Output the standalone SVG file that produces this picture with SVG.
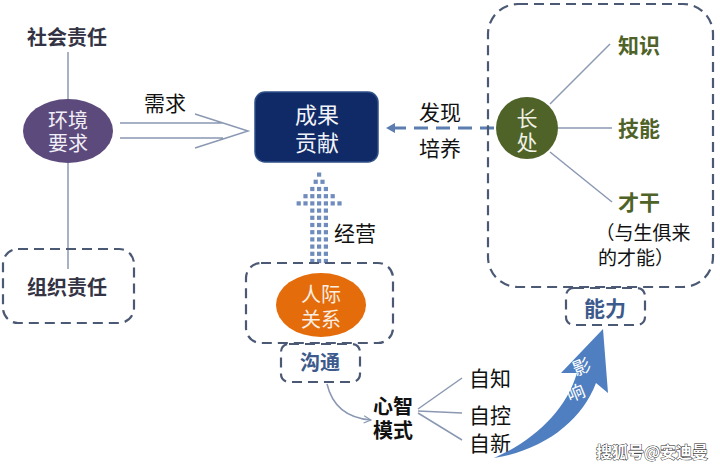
<svg xmlns="http://www.w3.org/2000/svg" width="720" height="469" viewBox="0 0 720 469">
<defs>
<style>
.t{font-family:"Noto Sans CJK SC","Noto Sans",sans-serif;text-anchor:middle}
.b{font-weight:bold}
.dash{fill:none;stroke:#4b5974;stroke-width:2.2;stroke-dasharray:10 6}
.ln{fill:none;stroke:#8a98b2;stroke-width:1.5}
</style>
<marker id="open" viewBox="0 0 10 10" refX="9" refY="5" markerWidth="9" markerHeight="9" orient="auto" markerUnits="userSpaceOnUse">
<path d="M1,1 L9,5 L1,9" fill="none" stroke="#8a98b2" stroke-width="1.3"/>
</marker>
</defs>
<rect width="720" height="469" fill="#ffffff"/>

<g id="connectors">
<line class="ln" x1="68" y1="52" x2="68" y2="99"/>
<line class="ln" x1="68" y1="163" x2="68" y2="269"/>
<path class="ln" d="M120,123 L223,123 M120,138 L223,138 M195,114 L248,131 L195,148"/>
<line x1="494" y1="128" x2="384" y2="128" stroke="#5b7db0" stroke-width="3" stroke-dasharray="14 8"/>
<path d="M386,128 L395,123 L395,133 Z" fill="#5b7db0"/>
<g fill="#6f8cbc">
<rect x="317" y="172.5" width="4.2" height="4.2"/>
<rect x="313.6" y="179.7" width="4.2" height="4.2"/><rect x="320.4" y="179.7" width="4.2" height="4.2"/>
<rect x="310.2" y="186.9" width="4.2" height="4.2"/><rect x="317" y="186.9" width="4.2" height="4.2"/><rect x="323.8" y="186.9" width="4.2" height="4.2"/>
<rect x="303.4" y="194.1" width="4.2" height="4.2"/><rect x="310.2" y="194.1" width="4.2" height="4.2"/><rect x="317" y="194.1" width="4.2" height="4.2"/><rect x="323.8" y="194.1" width="4.2" height="4.2"/><rect x="330.6" y="194.1" width="4.2" height="4.2"/>
<rect x="296.6" y="201.3" width="4.2" height="4.2"/><rect x="303.4" y="201.3" width="4.2" height="4.2"/><rect x="310.2" y="201.3" width="4.2" height="4.2"/><rect x="317" y="201.3" width="4.2" height="4.2"/><rect x="323.8" y="201.3" width="4.2" height="4.2"/><rect x="330.6" y="201.3" width="4.2" height="4.2"/><rect x="337.4" y="201.3" width="4.2" height="4.2"/>
<rect x="310.2" y="208.5" width="4.2" height="4.2"/><rect x="317" y="208.5" width="4.2" height="4.2"/><rect x="323.8" y="208.5" width="4.2" height="4.2"/>
<rect x="310.2" y="215.7" width="4.2" height="4.2"/><rect x="317" y="215.7" width="4.2" height="4.2"/><rect x="323.8" y="215.7" width="4.2" height="4.2"/>
<rect x="310.2" y="222.9" width="4.2" height="4.2"/><rect x="317" y="222.9" width="4.2" height="4.2"/><rect x="323.8" y="222.9" width="4.2" height="4.2"/>
<rect x="310.2" y="230.1" width="4.2" height="4.2"/><rect x="317" y="230.1" width="4.2" height="4.2"/><rect x="323.8" y="230.1" width="4.2" height="4.2"/>
<rect x="310.2" y="237.3" width="4.2" height="4.2"/><rect x="317" y="237.3" width="4.2" height="4.2"/><rect x="323.8" y="237.3" width="4.2" height="4.2"/>
<rect x="310.2" y="244.5" width="4.2" height="4.2"/><rect x="317" y="244.5" width="4.2" height="4.2"/><rect x="323.8" y="244.5" width="4.2" height="4.2"/>
<rect x="310.2" y="251.7" width="4.2" height="4.2"/><rect x="317" y="251.7" width="4.2" height="4.2"/><rect x="323.8" y="251.7" width="4.2" height="4.2"/>
<rect x="310.2" y="258.9" width="4.2" height="4.2"/><rect x="317" y="258.9" width="4.2" height="4.2"/><rect x="323.8" y="258.9" width="4.2" height="4.2"/>
</g>
<line class="ln" x1="550" y1="104" x2="610" y2="44"/>
<line class="ln" x1="558" y1="128" x2="612" y2="128"/>
<line class="ln" x1="550" y1="152" x2="612" y2="202"/>
<path class="ln" d="M327,384 C332,405 345,418 371,420" marker-end="url(#open)"/>
<line class="ln" x1="418" y1="409" x2="462" y2="378"/>
<line class="ln" x1="418" y1="411" x2="462" y2="413"/>
<line class="ln" x1="418" y1="413" x2="462" y2="440"/>
</g>

<g id="shehui">
<text class="t b" x="67" y="44.5" font-size="20" fill="#333344">社会责任</text>
</g>

<g id="huanjing">
<ellipse cx="68" cy="131" rx="45" ry="32" fill="#5d4a7c"/>
<text class="t" font-size="20" fill="#f0eef6"><tspan x="68" y="127.5">环境</tspan><tspan x="68" y="151">要求</tspan></text>
</g>

<g id="zuzhi">
<rect class="dash" x="3" y="249" width="131" height="74" rx="15"/>
<text class="t b" x="67" y="294.5" font-size="20" fill="#333344">组织责任</text>
</g>

<g id="xuqiu">
<text class="t" x="165" y="110.5" font-size="21" fill="#111111">需求</text>
</g>

<g id="chengguo">
<rect x="255" y="92" width="123" height="70" rx="10" fill="#0f2a66" stroke="#2f4f86" stroke-width="1.5"/>
<text class="t" font-size="22" fill="#f2f4fa"><tspan x="317" y="123">成果</tspan><tspan x="317" y="151">贡献</tspan></text>
</g>

<g id="faxian">
<text class="t" x="440" y="119.5" font-size="21" fill="#111111">发现</text>
<text class="t" x="440" y="155.5" font-size="21" fill="#111111">培养</text>
</g>

<g id="jingying">
<text class="t" x="355" y="240.5" font-size="21" fill="#111111">经营</text>
</g>

<g id="renji">
<rect class="dash" x="246" y="263" width="147" height="80" rx="15"/>
<ellipse cx="321" cy="305" rx="45" ry="32" fill="#e46c0b"/>
<text class="t" font-size="20" fill="#fbeee2"><tspan x="321" y="302">人际</tspan><tspan x="321" y="327">关系</tspan></text>
</g>

<g id="goutong">
<rect class="dash" x="281" y="344" width="79" height="38" rx="8"/>
<text class="t b" x="320" y="370" font-size="20" fill="#3d5a8c">沟通</text>
</g>

<g id="nengli-box">
<rect class="dash" x="488" y="4" width="225" height="283" rx="30"/>
</g>

<g id="changchu">
<circle cx="527" cy="128" r="31" fill="#4f6228"/>
<text class="t" font-size="21" fill="#f0f2e6"><tspan x="527" y="125.5">长</tspan><tspan x="527" y="150">处</tspan></text>
</g>

<g id="zhishi">
<text class="t b" x="639" y="52.5" font-size="21" fill="#4f6228">知识</text>
</g>
<g id="jineng">
<text class="t b" x="639" y="135.5" font-size="21" fill="#4f6228">技能</text>
</g>
<g id="caigan">
<text class="t b" x="639" y="209.5" font-size="21" fill="#4f6228">才干</text>
<text class="t" font-size="19" fill="#111111"><tspan x="643" y="240">（与生俱来</tspan><tspan x="636" y="265">的才能）</tspan></text>
</g>

<g id="nengli">
<rect class="dash" x="566" y="288" width="79" height="37" rx="8"/>
<text class="t b" x="605" y="315.5" font-size="21" fill="#3d5a8c">能力</text>
</g>

<g id="xinzhi">
<text class="t b" font-size="20" fill="#111111"><tspan x="393" y="414">心智</tspan><tspan x="393" y="438">模式</tspan></text>
</g>

<g id="zi">
<text class="t" x="490" y="385.5" font-size="21" fill="#111111">自知</text>
<text class="t" x="490" y="422.5" font-size="21" fill="#111111">自控</text>
<text class="t" x="490" y="450.5" font-size="21" fill="#111111">自新</text>
</g>

<g id="yingxiang">
<path d="M494,458 C545,450 582,420 596,383 L608,393 L603,329 L561,373 L577,373 C566,410 535,440 494,458 Z" fill="#4f7fc0"/>
<text class="t" x="0" y="0" font-size="18" fill="#ffffff" transform="translate(584,373) rotate(-22)">影</text>
<text class="t" x="0" y="0" font-size="18" fill="#ffffff" transform="translate(578,399) rotate(-22)">响</text>
</g>

<g id="watermark">
<text class="t b" x="652" y="458" font-size="16" fill="#ffffff" stroke="#222222" stroke-width="0.9" paint-order="stroke">搜狐号@安迪曼</text>
</g>
</svg>
